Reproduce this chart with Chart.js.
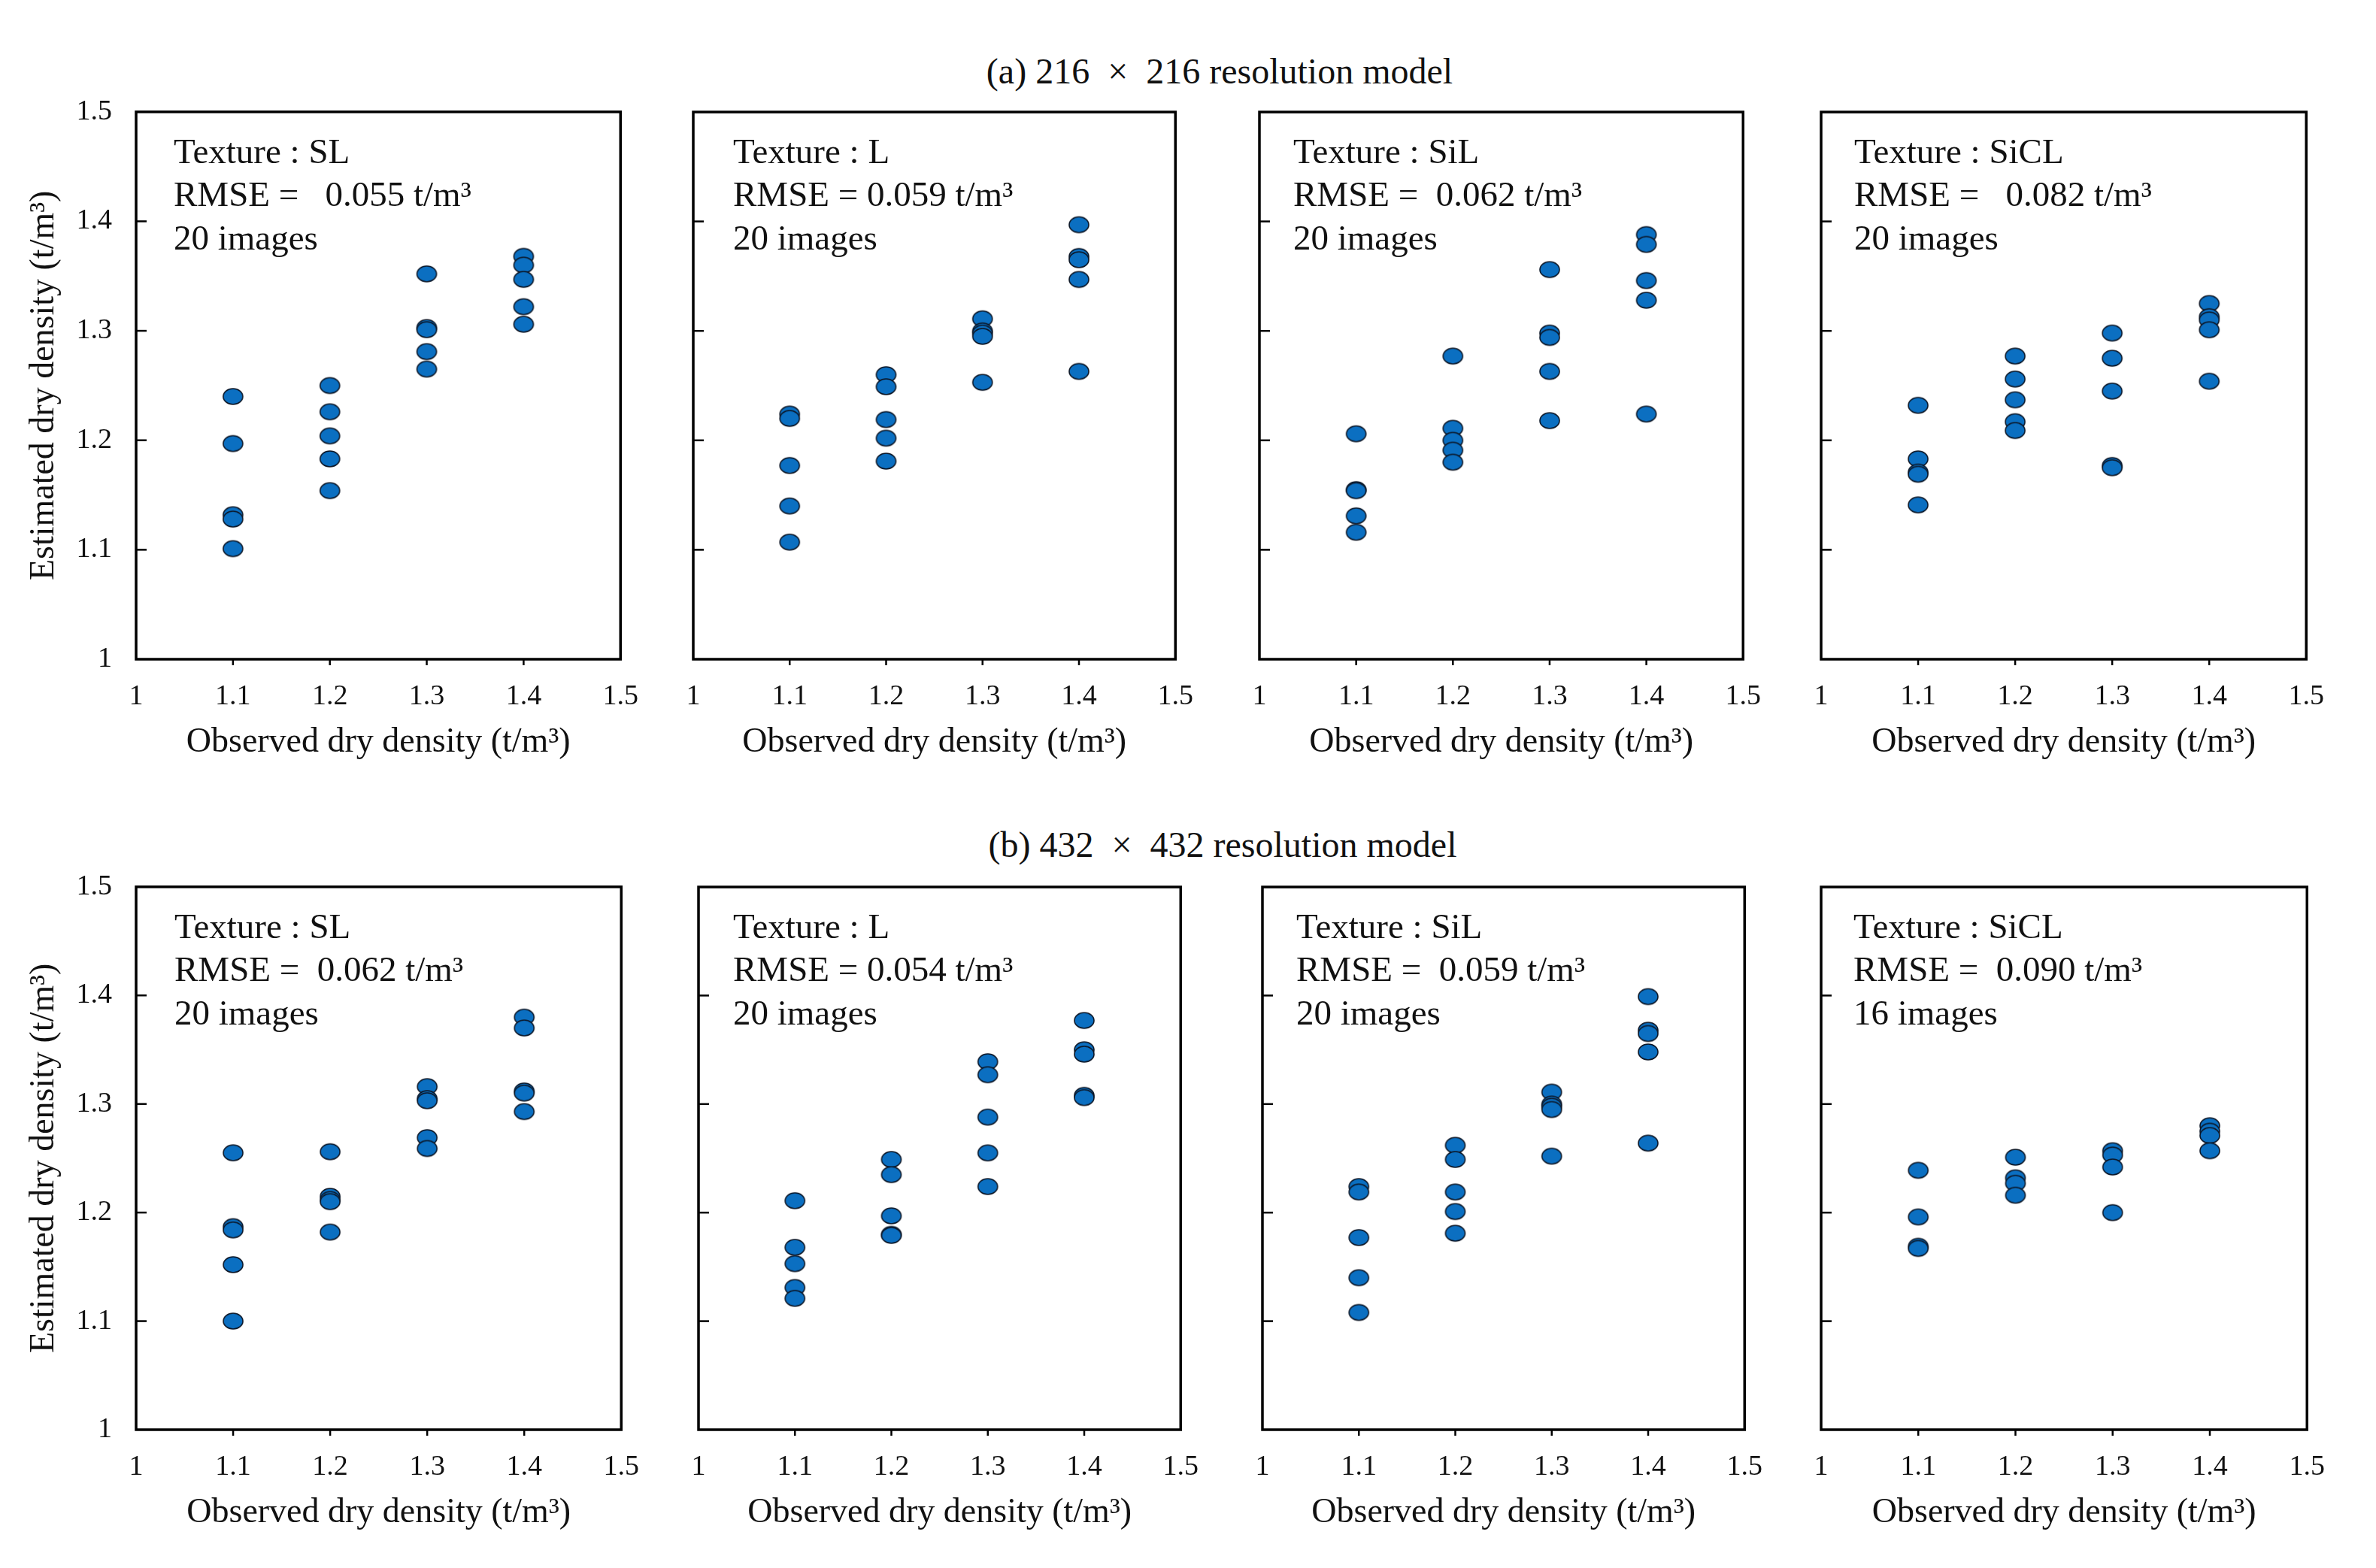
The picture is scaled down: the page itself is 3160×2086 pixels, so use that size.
<!DOCTYPE html>
<html>
<head>
<meta charset="utf-8">
<script src="https://cdn.jsdelivr.net/npm/chart.js@4.4.1/dist/chart.umd.min.js"></script>
<style>
  body { margin: 0; background: #fff; width: 3160px; height: 2086px; position: relative; overflow: hidden; font-family: "Liberation Serif", serif; }
  .row-title { position: absolute; font-size: 48px; color: #111; transform: translateX(-50%); white-space: pre; line-height: 1; }
  canvas { position: absolute; }
</style>
</head>
<body>
<div class="row-title" style="left:1622px; top:71px;">(a) 216  ×  216 resolution model</div>
<div class="row-title" style="left:1626px; top:1100px;">(b) 432  ×  432 resolution model</div>
<script>
// Axis ticks (same on both axes)
const tickValues = [1, 1.1, 1.2, 1.3, 1.4, 1.5];
const tickLabels = ['1', '1.1', '1.2', '1.3', '1.4', '1.5'];

// Observed dry density classes
const observed20 = [1.1, 1.1, 1.1, 1.1, 1.1, 1.2, 1.2, 1.2, 1.2, 1.2, 1.3, 1.3, 1.3, 1.3, 1.3, 1.4, 1.4, 1.4, 1.4, 1.4];
const observed16 = [1.1, 1.1, 1.1, 1.1, 1.2, 1.2, 1.2, 1.2, 1.3, 1.3, 1.3, 1.3, 1.4, 1.4, 1.4, 1.4];

// (a) 216 x 216 model - estimated dry density
const estA_SL = [1.240, 1.197, 1.132, 1.128, 1.101, 1.250, 1.226, 1.204, 1.183, 1.154, 1.352, 1.303, 1.301, 1.281, 1.265, 1.368, 1.360, 1.347, 1.322, 1.306];
const estA_L = [1.224, 1.220, 1.177, 1.140, 1.107, 1.260, 1.249, 1.219, 1.202, 1.181, 1.311, 1.300, 1.298, 1.295, 1.253, 1.397, 1.368, 1.365, 1.347, 1.263];
const estA_SiL = [1.206, 1.155, 1.154, 1.131, 1.116, 1.277, 1.211, 1.200, 1.191, 1.180, 1.356, 1.298, 1.294, 1.263, 1.218, 1.388, 1.379, 1.346, 1.328, 1.224];
const estA_SiCL = [1.232, 1.183, 1.171, 1.169, 1.141, 1.277, 1.256, 1.237, 1.217, 1.209, 1.298, 1.275, 1.245, 1.177, 1.175, 1.325, 1.313, 1.310, 1.301, 1.254];

// (b) 432 x 432 model - estimated dry density
const estB_SL = [1.255, 1.187, 1.184, 1.152, 1.100, 1.256, 1.215, 1.212, 1.210, 1.182, 1.316, 1.305, 1.303, 1.269, 1.259, 1.380, 1.370, 1.312, 1.310, 1.293];
const estB_L = [1.211, 1.168, 1.153, 1.131, 1.121, 1.249, 1.235, 1.197, 1.180, 1.179, 1.339, 1.327, 1.288, 1.255, 1.224, 1.377, 1.350, 1.346, 1.308, 1.306];
const estB_SiL = [1.224, 1.219, 1.177, 1.140, 1.108, 1.262, 1.249, 1.219, 1.201, 1.181, 1.311, 1.300, 1.298, 1.295, 1.252, 1.399, 1.368, 1.365, 1.348, 1.264];
const estB_SiCL = [1.239, 1.196, 1.169, 1.167, 1.251, 1.232, 1.227, 1.216, 1.257, 1.253, 1.242, 1.200, 1.280, 1.275, 1.271, 1.257];

// Panel texts
const textures = ['SL', 'L', 'SiL', 'SiCL'];
const rmseA = ['RMSE =   0.055 t/m³', 'RMSE = 0.059 t/m³', 'RMSE =  0.062 t/m³', 'RMSE =   0.082 t/m³'];
const rmseB = ['RMSE =  0.062 t/m³', 'RMSE = 0.054 t/m³', 'RMSE =  0.059 t/m³', 'RMSE =  0.090 t/m³'];
const imagesA = ['20 images', '20 images', '20 images', '20 images'];
const imagesB = ['20 images', '20 images', '20 images', '16 images'];

const FONT = '"Liberation Serif", "Times New Roman", serif';

// Ellipse marker like the original figure
function makeDot() {
    const c = document.createElement('canvas');
    c.width = 30; c.height = 25;
    const g = c.getContext('2d');
    g.beginPath();
    g.ellipse(15, 12.5, 13, 10.5, 0, 0, Math.PI * 2);
    g.fillStyle = '#0b6fc1';
    g.fill();
    g.lineWidth = 1.6;
    g.strokeStyle = '#0c1626';
    g.stroke();
    return c;
}
const dot = makeDot();

// Box, inward y ticks, outward x ticks and the texture text
const framePlugin = {
    id: 'frame',
    afterDraw(chart, args, opts) {
        const { ctx, chartArea: a, scales: { x, y } } = chart;
        ctx.save();
        ctx.strokeStyle = '#000';
        ctx.lineWidth = 2.5;
        tickValues.slice(1, -1).forEach(v => {
            const py = y.getPixelForValue(v);
            ctx.beginPath(); ctx.moveTo(a.left, py); ctx.lineTo(a.left + 14, py); ctx.stroke();
            const px = x.getPixelForValue(v);
            ctx.beginPath(); ctx.moveTo(px, a.bottom); ctx.lineTo(px, a.bottom + 8); ctx.stroke();
        });
        ctx.lineWidth = 3.5;
        ctx.strokeRect(a.left, a.top, a.right - a.left, a.bottom - a.top);
        ctx.fillStyle = '#111';
        ctx.font = '47px ' + FONT;
        ctx.textBaseline = 'middle';
        const offs = [56, 113, 171];
        opts.lines.forEach((t, i) => ctx.fillText(t, a.left + opts.dx, a.top + offs[i]));
        ctx.restore();
    }
};

// Plot box positions on the page
const rowTops = [149, 1180];
const rowBottoms = [877, 1902];
const boxLefts = [[181, 922, 1675, 2422], [181, 929, 1679, 2422]];
const boxRights = [[825, 1563, 2318, 3067], [826, 1570, 2320, 3068]];
const textDx = [[50, 53, 45, 44], [51, 46, 45, 43]];

const panels = [
    [estA_SL, estA_L, estA_SiL, estA_SiCL],
    [estB_SL, estB_L, estB_SiL, estB_SiCL]
];

const padT = 30, padR = 40, padB = 143;

function buildChart(canvas, points, lines, dx, padL, showY) {
    return new Chart(canvas.getContext('2d'), {
        type: 'scatter',
        data: {
            datasets: [{
                data: points,
                pointStyle: dot,
                pointRadius: 12
            }]
        },
        options: {
            responsive: false,
            maintainAspectRatio: false,
            animation: false,
            devicePixelRatio: 1,
            layout: { padding: { top: padT, right: padR, left: 0, bottom: 0 } },
            plugins: {
                legend: { display: false },
                tooltip: { enabled: false },
                frame: { lines: lines, dx: dx }
            },
            scales: {
                x: {
                    type: 'linear',
                    min: 1,
                    max: 1.5,
                    afterBuildTicks: s => { s.ticks = tickValues.map(v => ({ value: v })); },
                    afterFit: s => { s.height = padB; },
                    grid: { display: false, drawTicks: false },
                    border: { display: false },
                    ticks: {
                        callback: (v, i) => tickLabels[i],
                        font: { family: FONT, size: 38 },
                        color: '#111',
                        padding: 27,
                        maxRotation: 0,
                        autoSkip: false
                    },
                    title: {
                        display: true,
                        text: 'Observed dry density (t/m³)',
                        font: { family: FONT, size: 46 },
                        color: '#111',
                        padding: { top: 4, bottom: 4 }
                    }
                },
                y: {
                    type: 'linear',
                    min: 1,
                    max: 1.5,
                    afterBuildTicks: s => { s.ticks = tickValues.map(v => ({ value: v })); },
                    afterFit: s => { s.width = padL; },
                    grid: { display: false, drawTicks: false },
                    border: { display: false },
                    ticks: {
                        display: showY,
                        callback: (v, i) => tickLabels[i],
                        font: { family: FONT, size: 38 },
                        color: '#111',
                        padding: 32
                    },
                    title: {
                        display: showY,
                        text: 'Estimated dry density (t/m³)',
                        font: { family: FONT, size: 46 },
                        color: '#111',
                        padding: { top: 4, bottom: 4 }
                    }
                }
            }
        },
        plugins: [framePlugin]
    });
}

panels.forEach((row, r) => {
    row.forEach((est, c) => {
        const padL = c === 0 ? 154 : 40;
        const boxW = boxRights[r][c] - boxLefts[r][c];
        const boxH = rowBottoms[r] - rowTops[r];
        const canvas = document.createElement('canvas');
        canvas.width = boxW + padL + padR;
        canvas.height = boxH + padT + padB;
        document.body.appendChild(canvas);

        const obs = est.length === 16 ? observed16 : observed20;
        const points = obs.map((x, i) => ({ x: x, y: est[i] }));
        const lines = [
            'Texture : ' + textures[c],
            (r === 0 ? rmseA : rmseB)[c],
            (r === 0 ? imagesA : imagesB)[c]
        ];

        // first pass, then grow the canvas so the plot box gets its full size
        let chart = buildChart(canvas, points, lines, textDx[r][c], padL, c === 0);
        let ca = chart.chartArea;
        const dw = boxW - Math.round(ca.right - ca.left);
        const dh = boxH - Math.round(ca.bottom - ca.top);
        if (dw !== 0 || dh !== 0) {
            chart.destroy();
            canvas.width = boxW + padL + padR + dw;
            canvas.height = boxH + padT + padB + dh;
            chart = buildChart(canvas, points, lines, textDx[r][c], padL, c === 0);
            ca = chart.chartArea;
        }
        canvas.style.left = Math.round(boxLefts[r][c] - ca.left) + 'px';
        canvas.style.top = Math.round(rowTops[r] - ca.top) + 'px';
    });
});
</script>
</body>
</html>
